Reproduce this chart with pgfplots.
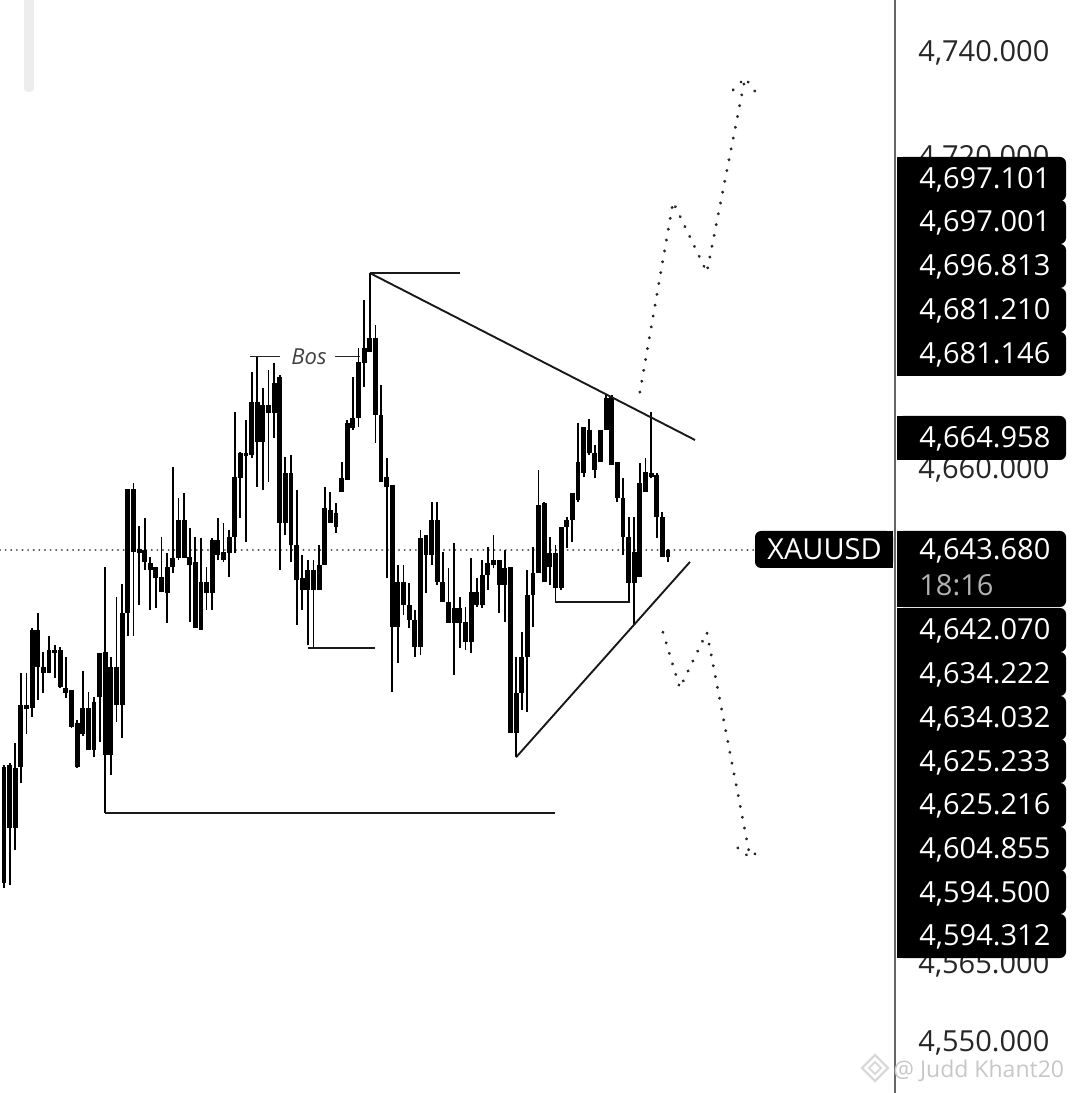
\documentclass[border=0pt]{standalone}
\usepackage{pgfplots}
\pgfplotsset{compat=1.18}
\usepackage{pgfplotstable}
\usepackage{fontspec}
\setmainfont{Open Sans}

% XAUUSD candles: n open high low close
\pgfplotstableread{
n o h l c
1 4579.8 4602.4 4578.8 4602.0
2 4602.4 4602.8 4579.4 4590.3
3 4590.3 4606.6 4586.1 4601.8
4 4602.0 4620.1 4599.0 4613.9
5 4613.9 4620.1 4608.4 4613.2
6 4613.4 4628.7 4611.6 4628.3
7 4628.3 4631.6 4614.9 4621.2
8 4621.2 4624.1 4616.2 4620.1
9 4620.1 4627.2 4620.1 4624.5
10 4624.5 4625.5 4619.1 4623.9
11 4624.5 4625.1 4617.2 4617.4
12 4617.2 4623.2 4615.3 4616.2
13 4616.8 4616.8 4609.5 4609.7
14 4610.5 4611.1 4601.8 4602.0
15 4608.4 4620.5 4608.0 4613.4
16 4613.4 4616.4 4605.3 4605.3
17 4605.3 4615.5 4603.9 4614.5
18 4615.5 4623.9 4606.8 4623.9
19 4624.1 4640.4 4593.2 4604.3
20 4604.3 4623.2 4600.5 4621.2
21 4621.2 4634.7 4610.7 4613.9
22 4613.9 4637.2 4607.6 4631.6
23 4631.6 4655.4 4627.2 4655.4
24 4655.4 4656.5 4627.2 4643.3
25 4643.9 4648.3 4633.1 4643.1
26 4643.7 4649.8 4639.9 4641.4
27 4641.2 4642.4 4632.2 4639.9
28 4640.4 4640.4 4632.6 4638.3
29 4638.5 4646.2 4635.6 4635.6
30 4635.4 4643.1 4629.7 4640.4
31 4640.4 4659.6 4639.3 4642.2
32 4642.2 4653.7 4641.8 4649.5
33 4649.5 4654.7 4642.2 4642.2
34 4642.4 4647.9 4629.9 4640.8
35 4641.4 4646.2 4628.7 4628.7
36 4628.3 4646.0 4628.3 4637.5
37 4637.5 4640.4 4632.2 4635.4
38 4635.4 4646.0 4632.2 4645.6
39 4645.6 4649.8 4641.8 4642.7
40 4643.3 4648.9 4641.4 4641.8
41 4643.1 4647.5 4638.5 4646.2
42 4646.2 4670.2 4643.1 4657.7
43 4657.5 4662.5 4649.8 4662.3
44 4661.7 4668.6 4645.2 4662.3
45 4661.9 4677.9 4661.3 4672.1
46 4672.1 4680.8 4655.8 4664.4
47 4664.4 4674.8 4655.2 4671.5
48 4671.5 4678.3 4656.7 4670.0
49 4670.0 4679.6 4665.2 4675.7
50 4676.9 4677.3 4639.9 4648.9
51 4648.9 4661.5 4646.6 4658.5
52 4658.5 4661.9 4641.4 4644.7
53 4644.7 4655.2 4629.3 4637.9
54 4638.3 4642.7 4632.2 4636.0
55 4636.0 4641.8 4625.5 4639.9
56 4639.9 4641.8 4624.9 4636.0
57 4636.0 4644.7 4636.0 4640.8
58 4640.8 4655.8 4640.8 4651.8
59 4651.4 4654.9 4648.9 4648.9
60 4648.1 4652.7 4647.0 4650.8
61 4654.9 4660.6 4654.9 4657.5
62 4657.1 4668.6 4657.1 4668.1
63 4667.1 4676.9 4666.7 4669.0
64 4669.0 4682.5 4667.3 4679.8
65 4679.6 4691.7 4675.0 4682.5
66 4681.7 4696.9 4681.7 4684.4
67 4684.4 4686.9 4664.2 4669.6
68 4669.6 4675.4 4656.7 4656.7
69 4655.8 4661.3 4638.3 4657.7
70 4656.1 4656.1 4616.4 4628.9
71 4628.9 4640.8 4622.0 4637.5
72 4637.5 4640.8 4631.2 4633.1
73 4633.1 4637.3 4628.7 4630.3
74 4630.3 4632.2 4623.2 4625.1
75 4625.1 4647.5 4623.5 4646.0
76 4646.6 4646.6 4635.4 4642.7
77 4642.7 4652.9 4640.8 4649.5
78 4649.5 4652.9 4637.0 4637.5
79 4637.5 4643.3 4633.7 4633.7
80 4633.7 4640.2 4629.7 4629.7
81 4629.7 4645.0 4619.7 4632.6
82 4632.6 4634.7 4624.9 4629.7
83 4629.9 4632.8 4624.5 4626.0
84 4626.0 4642.2 4623.9 4635.6
85 4635.6 4638.3 4632.8 4633.1
86 4633.1 4641.8 4632.6 4638.9
87 4638.9 4644.3 4636.0 4641.2
88 4641.8 4646.6 4640.2 4640.8
89 4641.8 4641.8 4631.6 4637.0
90 4637.0 4643.7 4629.9 4640.2
91 4640.4 4640.4 4608.6 4608.6
92 4608.6 4623.2 4603.9 4616.2
93 4616.2 4628.0 4613.0 4623.2
94 4623.2 4639.9 4612.6 4635.0
95 4635.0 4644.3 4628.9 4639.3
96 4639.3 4659.0 4639.3 4652.3
97 4652.7 4652.9 4637.5 4637.5
98 4640.4 4646.2 4637.0 4643.1
99 4643.1 4644.7 4633.7 4636.4
100 4636.4 4648.1 4636.0 4648.1
101 4648.1 4650.0 4644.1 4649.5
102 4649.5 4654.7 4645.2 4654.7
103 4653.3 4668.1 4652.9 4660.6
104 4658.5 4667.3 4657.7 4667.3
105 4666.7 4668.8 4661.9 4662.3
106 4662.3 4663.8 4657.5 4659.0
107 4660.6 4666.7 4660.6 4666.7
108 4666.7 4673.4 4666.7 4672.9
109 4673.1 4673.4 4660.0 4660.0
110 4660.6 4660.6 4652.9 4653.7
111 4653.7 4657.5 4642.7 4646.2
112 4646.2 4650.0 4633.7 4637.3
113 4637.3 4650.0 4629.3 4643.3
114 4638.5 4660.4 4638.5 4656.5
115 4654.9 4661.3 4654.9 4658.7
116 4658.5 4670.2 4657.5 4657.7
117 4658.1 4658.5 4646.0 4650.0
118 4650.0 4651.0 4642.4 4642.4
119 4642.4 4643.9 4641.4 4643.68
}\candles

\newcommand\lbl{\fontsize{14.5bp}{17bp}\selectfont}

\begin{document}
\begin{tikzpicture}
\begin{axis}[
  scale only axis,
  width=447.5bp, height=546.5bp,
  xmin=0.289, xmax=159.34,
  ymin=4539.46, ymax=4749.25,
  axis line style={draw=none},
  major tick length=0pt,
  xtick=\empty,
  ytick={4550,4565,4660,4720,4740},
  yticklabel pos=right,
  scaled y ticks=false,
  yticklabel style={font=\lbl, text=black!85, anchor=west, inner sep=0pt, xshift=11.5bp, yshift=-2.5bp,
    /pgf/number format/.cd, fixed, fixed zerofill, precision=3, 1000 sep={,}, assume math mode=true},
]
% current price
\addplot[black!70, line width=1.1bp, line cap=round, dash pattern=on 0.01bp off 2.8bp]
  coordinates {(0.289,4643.68) (134.5,4643.68)};

% wicks
\addplot[draw=none, mark=none, error bars/.cd, y dir=plus, y explicit, error mark=none,
  error bar style={draw=black, line width=0.9bp}]
  table[x=n, y=l, y error expr=\thisrow{h}-\thisrow{l}] {\candles};
% bodies
\addplot[draw=none, mark=none, error bars/.cd, y dir=plus, y explicit, error mark=none,
  error bar style={draw=black, line width=2.45bp}]
  table[x=n, y expr={min(\thisrow{o},\thisrow{c})}, y error expr={abs(\thisrow{c}-\thisrow{o})}] {\candles};

% drawn levels and trend lines
\addplot[black!90, line width=0.95bp] coordinates {(66.0,4696.85) (82.0,4696.85)};
\addplot[black!90, line width=0.95bp] coordinates {(66.0,4696.85) (123.8,4664.8)};
\addplot[black!90, line width=0.95bp] coordinates {(55.0,4624.9) (66.9,4624.9)};
\addplot[black!90, line width=0.95bp] coordinates {(18.95,4593.2) (98.9,4593.2)};
\addplot[black!90, line width=0.95bp] coordinates {(98.9,4633.7) (112.2,4633.7)};
\addplot[black!90, line width=0.95bp] coordinates {(92.0,4603.9) (122.9,4641.4)};
\addplot[black!85, line width=0.8bp] coordinates {(44.7,4680.8) (50.05,4680.8)};
\addplot[black!85, line width=0.8bp] coordinates {(59.8,4680.8) (64.3,4680.8)};

% projected paths
\addplot[black!85, line width=1.6bp, line cap=round, dash pattern=on 0.01bp off 5.5bp]
  coordinates {(114.0,4674.0) (119.9,4710.5) (125.9,4697.0) (132.7,4734.3)};
\addplot[black!85, line width=1.6bp, line cap=round, dash pattern=on 0.01bp off 5.5bp]
  coordinates {(130.6,4732.0) (132.7,4734.3) (134.8,4731.2)};
\addplot[black!85, line width=1.6bp, line cap=round, dash pattern=on 0.01bp off 5.5bp]
  coordinates {(118.1,4627.9) (121.1,4617.2) (125.9,4627.9) (133.6,4584.6)};
\addplot[black!85, line width=1.6bp, line cap=round, dash pattern=on 0.01bp off 5.5bp]
  coordinates {(131.4,4586.5) (133.6,4584.6) (135.7,4586.5)};
\end{axis}

% price scale overlays, in pixel units from the top left
\begin{scope}[x=0.5bp, y=-0.5bp, shift={(0,546.5bp)}]
\fill[black!7, rounded corners=2bp] (24,-10) rectangle (34,92);
\draw[line width=1bp, black!60] (895,0) -- (895,1093);
\node[font=\fontsize{11bp}{13bp}\selectfont\itshape, text=black!75] at (309,357) {Bos};

% upper stack
\foreach \yc/\t in {179/4{,}697.101, 222/4{,}697.001, 266/4{,}696.813, 310/4{,}681.210, 354/4{,}681.146, 438/4{,}664.958}{
  \fill[black, rounded corners=3bp] (897,\yc-22) rectangle (1066,\yc+22);
  \fill[black] (897,\yc-22) rectangle (1000,\yc+22);
  \node[anchor=base west, inner sep=0pt, text=white, font=\lbl] at (919,\yc+10) {\t};
}
% lower stack
\foreach \yc/\t in {630/4{,}642.070, 674/4{,}634.222, 718/4{,}634.032, 761/4{,}625.233, 805/4{,}625.216, 849/4{,}604.855, 892/4{,}594.500, 936/4{,}594.312}{
  \fill[black, rounded corners=3bp] (897,\yc-22) rectangle (1066,\yc+22);
  \fill[black] (897,\yc-22) rectangle (1000,\yc+22);
  \node[anchor=base west, inner sep=0pt, text=white, font=\lbl] at (919,\yc+10) {\t};
}
% current price
\fill[black, rounded corners=3bp] (755,531) rectangle (893,568);
\fill[black] (850,531) rectangle (893,568);
\node[anchor=base west, inner sep=0pt, text=white, font=\lbl] at (767,560) {XAUUSD};
\fill[black, rounded corners=3bp] (897,531) rectangle (1066,607);
\fill[black] (897,531) rectangle (1000,607);
\node[anchor=base west, inner sep=0pt, text=white, font=\lbl] at (919,560) {4,643.680};
\node[anchor=base west, inner sep=0pt, text=black!30, font=\lbl] at (919,596) {18:16};

% watermark
\draw[black!15, line width=1.2bp] (875,1055) -- (888,1068) -- (875,1081) -- (862,1068) -- cycle;
\draw[black!15, line width=1bp] (875,1062) -- (881,1068) -- (875,1074) -- (869,1068) -- cycle;
\node[anchor=base west, inner sep=0pt, text=black!22, font=\fontsize{11.5bp}{14bp}\selectfont] at (893,1078) {@ Judd Khant20};

\pgfresetboundingbox
\path (0,0) rectangle (1079,1093);
\end{scope}
\end{tikzpicture}
\end{document}
